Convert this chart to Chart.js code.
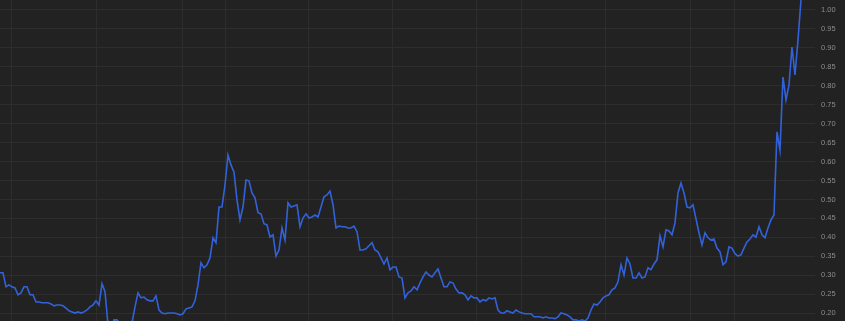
<!DOCTYPE html>
<html>
<head>
<meta charset="utf-8">
<script src="https://cdn.jsdelivr.net/npm/chart.js@4/dist/chart.umd.min.js"></script>
<style>
  html, body { margin: 0; padding: 0; background: #222222; }
  #wrap { width: 845px; height: 321px; }
</style>
</head>
<body>
<div id="wrap"><canvas id="c" width="845" height="321"></canvas></div>
<script>
// Price series (one value per period)
const prices = [
  0.307,0.307,0.270,0.275,0.270,0.267,0.249,0.254,0.270,0.270,
  0.249,0.249,0.230,0.230,0.228,0.228,0.228,0.225,0.220,0.222,
  0.222,0.220,0.214,0.207,0.204,0.201,0.204,0.201,0.204,0.209,
  0.217,0.222,0.233,0.222,0.278,0.257,0.170,0.157,0.183,0.183,
  0.172,0.167,0.172,0.167,0.175,0.217,0.254,0.241,0.243,0.236,
  0.233,0.233,0.246,0.209,0.201,0.199,0.201,0.201,0.201,0.199,
  0.196,0.199,0.212,0.214,0.217,0.233,0.275,0.333,0.320,0.328,
  0.346,0.399,0.386,0.480,0.480,0.538,0.617,0.591,0.572,0.499,
  0.446,0.480,0.551,0.549,0.517,0.504,0.465,0.462,0.436,0.433,
  0.401,0.407,0.351,0.367,0.425,0.393,0.491,0.480,0.483,0.486,
  0.428,0.451,0.462,0.451,0.454,0.459,0.454,0.480,0.507,0.512,
  0.522,0.486,0.425,0.430,0.428,0.428,0.425,0.425,0.430,0.415,
  0.367,0.367,0.370,0.378,0.386,0.367,0.362,0.346,0.330,0.346,
  0.315,0.322,0.322,0.296,0.293,0.241,0.254,0.259,0.270,0.262,
  0.280,0.296,0.309,0.301,0.296,0.307,0.317,0.293,0.270,0.270,
  0.283,0.280,0.264,0.254,0.254,0.249,0.236,0.246,0.241,0.241,
  0.230,0.236,0.233,0.241,0.238,0.241,0.209,0.201,0.201,0.207,
  0.204,0.201,0.209,0.204,0.201,0.199,0.199,0.199,0.191,0.191,
  0.191,0.188,0.191,0.188,0.188,0.186,0.191,0.201,0.199,0.196,
  0.191,0.183,0.183,0.180,0.183,0.180,0.188,0.209,0.225,0.222,
  0.230,0.241,0.246,0.249,0.262,0.267,0.283,0.328,0.301,0.346,
  0.330,0.293,0.293,0.307,0.293,0.296,0.320,0.315,0.330,0.341,
  0.404,0.375,0.420,0.417,0.407,0.438,0.517,0.543,0.517,0.480,
  0.478,0.486,0.449,0.412,0.380,0.412,0.399,0.393,0.396,0.372,
  0.362,0.328,0.336,0.375,0.372,0.357,0.351,0.354,0.372,0.388,
  0.396,0.407,0.401,0.428,0.407,0.399,0.425,0.446,0.459,0.678,
  0.630,0.822,0.762,0.801,0.901,0.828,0.920,1.025,1.091
];
// Period index of each observation
const periods = prices.map((_, i) => i);
// Vertical grid lines (period positions of date boundaries)
const dateGridPeriods = [4, 32.33, 60.67, 75.33, 102.67, 131, 159, 174, 202, 230.33, 244.67];
// Right axis tick labels
const priceTicks = [0.20,0.25,0.30,0.35,0.40,0.45,0.50,0.55,0.60,0.65,0.70,0.75,0.80,0.85,0.90,0.95,1.00];
const xRange = [0, 271.67];
const yRange = [0.18, 1.025];

new Chart(document.getElementById('c'), {
  type: 'line',
  data: {
    datasets: [{
      data: periods.map((p, i) => ({ x: p, y: prices[i] })),
      borderColor: '#3262da',
      borderWidth: 1.6,
      pointRadius: 0,
      tension: 0,
      fill: false
    }]
  },
  options: {
    responsive: false,
    animation: false,
    layout: { padding: 0 },
    plugins: { legend: { display: false }, tooltip: { enabled: false } },
    scales: {
      x: {
        type: 'linear',
        min: xRange[0],
        max: xRange[1],
        afterBuildTicks: s => { s.ticks = dateGridPeriods.map(v => ({ value: v })); },
        afterFit: s => { s.height = 0; s.paddingLeft = 0; s.paddingRight = 0; s.paddingTop = 0; s.paddingBottom = 0; },
        ticks: { display: false },
        grid: { color: '#2d2d2d', lineWidth: 1, drawTicks: false },
        border: { display: false }
      },
      y: {
        position: 'right',
        min: yRange[0],
        max: yRange[1],
        afterBuildTicks: s => { s.ticks = priceTicks.map(v => ({ value: v })); },
        afterFit: s => { s.width = 30; s.paddingTop = 0; s.paddingBottom = 0; s.paddingLeft = 0; s.paddingRight = 0; },
        ticks: {
          color: '#8c8c8c',
          padding: 6,
          font: { family: 'Liberation Sans, Arial, sans-serif', size: 7.5 },
          callback: v => Number(v).toFixed(2)
        },
        grid: { color: '#2d2d2d', lineWidth: 1, drawTicks: false },
        border: { display: false }
      }
    }
  }
});
</script>
</body>
</html>
